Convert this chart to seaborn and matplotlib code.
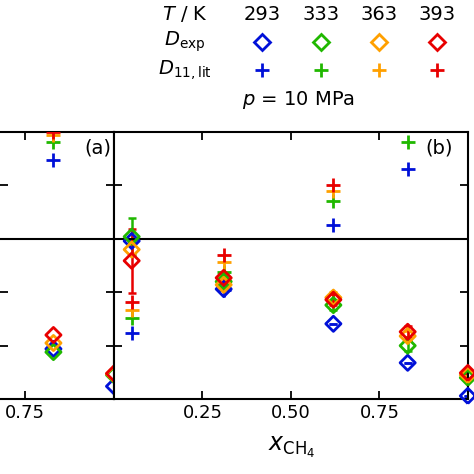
import numpy as np
import pandas as pd
import matplotlib
matplotlib.use("Agg")
import matplotlib.pyplot as plt
import seaborn as sns

temps = ["293", "333", "363", "393"]
colors = ["#0010d8", "#20b800", "#ffa000", "#e80000"]

# panel (a)
xa = [0.83, 1.0]
dexp_a = {"293": [0.94, 0.24], "333": [0.88, 0.45], "363": [1.05, 0.47], "393": [1.2, 0.48]}
dlit_a = {"293": [4.48], "333": [4.82], "363": [4.95], "393": [5.0]}
xa_lit = [0.83]

# panel (b)
xb = [0.05, 0.31, 0.62, 0.83, 1.0]
dexp_b = {"293": [2.96, 2.06, 1.41, 0.68, 0.06],
          "333": [3.04, 2.20, 1.76, 1.00, 0.40],
          "363": [2.80, 2.14, 1.90, 1.18, 0.45],
          "393": [2.59, 2.27, 1.86, 1.26, 0.49]}
err_b = {"293": [0.0] * 5, "333": [0.35, 0.1, 0.1, 0.1, 0.0],
         "363": [0.1] * 4 + [0.0], "393": [0.6, 0.1, 0.1, 0.1, 0.0]}
xb_lit = [0.05, 0.31, 0.62, 0.83]
dlit_b = {"293": [1.24, 2.05, 3.25, 4.30],
          "333": [1.52, 2.38, 3.70, 4.82],
          "363": [1.67, 2.57, 3.90, np.nan],
          "393": [1.82, 2.70, 4.01, np.nan]}

sns.set_style("ticks")
plt.rcParams["text.color"] = "black"
plt.rcParams["xtick.color"] = "black"
plt.rcParams["ytick.color"] = "black"
fig = plt.figure(figsize=(4.74, 4.74), dpi=100)
ax_a = fig.add_axes([0.0, 0.158, 0.2405, 0.5635])
ax_b = fig.add_axes([0.2405, 0.158, 0.7465, 0.5635])


def draw(ax, xd, dexp, xl, dlit, err=None):
    for t, c in zip(temps, colors):
        if err is not None:
            ax.errorbar(xd, dexp[t], yerr=err[t], fmt="none", ecolor=c,
                        elinewidth=1.8, capsize=3, capthick=1.8, zorder=2)
        ax.scatter(xd, dexp[t], marker="D", s=60, facecolors="none",
                   edgecolors=c, linewidths=2, zorder=3, clip_on=False)
        df = pd.DataFrame({"x": xl, "y": dlit[t]})
        sns.scatterplot(data=df, x="x", y="y", marker="+", s=110, color=c,
                        linewidth=2, ax=ax, zorder=3)


draw(ax_a, xa, dexp_a, xa_lit, dlit_a)
draw(ax_b, xb, dexp_b, xb_lit, dlit_b, err_b)

for ax in (ax_a, ax_b):
    ax.set_ylim(0, 5)
    ax.set_yticks([1, 2, 3, 4])
    ax.set_yticklabels([])
    ax.axhline(3, color="black", lw=1.5)
    ax.tick_params(direction="in", length=6, width=1.3, top=True, left=True,
                   right=True, labelsize=13, colors="black")
    ax.set_xlabel("")
    ax.set_ylabel("")
    for s in ax.spines.values():
        s.set_linewidth(1.5)
        s.set_color("black")
ax_a.spines["left"].set_visible(False)
ax_a.set_xlim(0.68, 1.0)
ax_a.set_xticks([0.75, 1.0])
ax_a.set_xticklabels(["0.75", ""])
ax_b.set_xlim(0, 1)
ax_b.set_xticks([0, 0.25, 0.5, 0.75, 1.0])
ax_b.set_xticklabels(["", "0.25", "0.50", "0.75", ""])
ax_a.text(0.955, 4.7, "(a)", fontsize=14, ha="center", va="center")
ax_b.text(0.92, 4.7, "(b)", fontsize=14, ha="center", va="center")
fig.text(0.615, 0.055, r"$x_{\mathrm{CH_4}}$", fontsize=17, ha="center", va="center")

# legend block
fig.text(0.39, 0.97, r"$T$ / K", fontsize=14, ha="center", va="center")
xs = [0.553, 0.677, 0.80, 0.922]
for x, t, c in zip(xs, temps, colors):
    fig.text(x, 0.97, t, fontsize=14, ha="center", va="center")
    fig.lines.append(plt.Line2D([x], [0.911], marker="D", ms=8, mfc="none",
                                mec=c, mew=2, transform=fig.transFigure))
    fig.lines.append(plt.Line2D([x], [0.852], marker="+", ms=10, color=c,
                                mew=2, transform=fig.transFigure))
fig.text(0.39, 0.911, r"$D_{\mathrm{exp}}$", fontsize=14, ha="center", va="center")
fig.text(0.39, 0.852, r"$D_{11,\mathrm{lit}}$", fontsize=14, ha="center", va="center")
fig.text(0.63, 0.79, r"$p$ = 10 MPa", fontsize=14, ha="center", va="center")

fig.savefig("out.png", dpi=100)
